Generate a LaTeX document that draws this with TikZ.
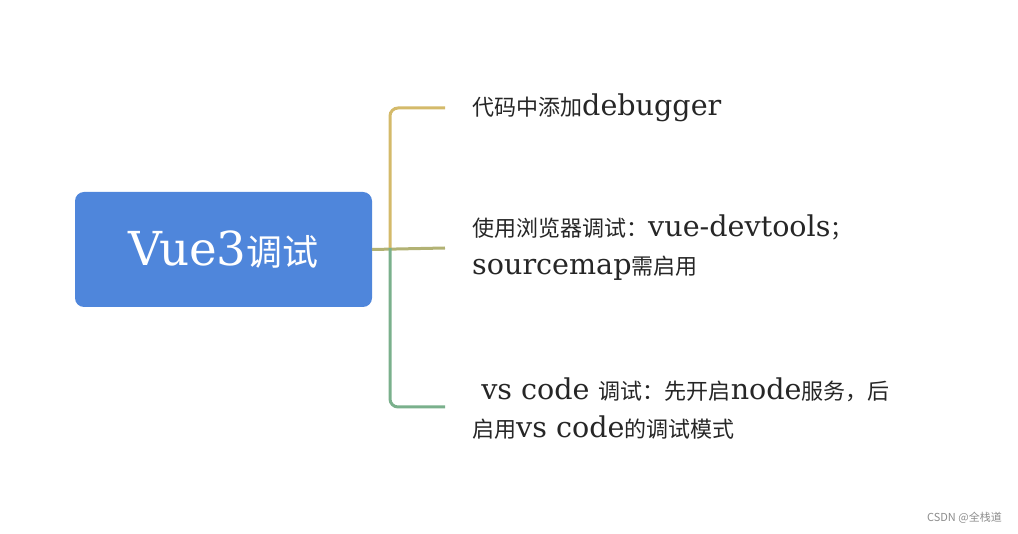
\documentclass[tikz,border=0pt]{standalone}
\usepackage{fontspec}
\setmainfont{DejaVu Serif}[Scale=1.3]
\newfontfamily\cjk{Noto Sans CJK SC}
\newfontfamily\wm{Noto Sans CJK SC}
\definecolor{boxblue}{HTML}{4F86DB}
\definecolor{cy}{HTML}{D4BA6A}
\definecolor{co}{HTML}{B2B274}
\definecolor{cg}{HTML}{7AB08C}
\tikzset{x=1pt,y=-1pt,
 lbl/.style={anchor=west,align=left,font=\fontsize{22}{38}\selectfont,text=black!85,inner sep=0},
 br/.style={line width=3pt,rounded corners=8pt}}
\begin{document}
\begin{tikzpicture}
\useasboundingbox (0,0) rectangle (1018,534);
\node[fill=boxblue,rounded corners=9pt,minimum width=297pt,minimum height=115pt,inner sep=0,text=white,font=\fontsize{36}{40}\selectfont] (root) at (223.5,249.5) {Vue3{\cjk 调试}};
\coordinate (j) at (390,248);
\coordinate (t) at (445,108);
\coordinate (m) at (445,248);
\coordinate (b) at (445,407);
\draw[br,co] (root.east) -- (m);
\draw[br,cy] (j) -- (390,108) -- (t);
\draw[br,cg] (j) -- (390,407) -- (b);
\node[lbl] (l1) at (472,108) {{\cjk 代码中添加}debugger};
\node[lbl] (l2) at (472,248) {{\cjk 使用浏览器调试：}vue-devtools{\cjk ；}\\sourcemap{\cjk 需启用}};
\node[lbl] (l3) at (472,409) {\ vs code {\cjk 调试：先开启}node{\cjk 服务，后}\\{\cjk 启用}vs code{\cjk 的调试模式}};
\node[anchor=east,font=\fontsize{11}{13}\selectfont\wm,text=black!45,inner sep=0] (w) at (1002,518) {CSDN @全栈道};
\end{tikzpicture}
\end{document}
